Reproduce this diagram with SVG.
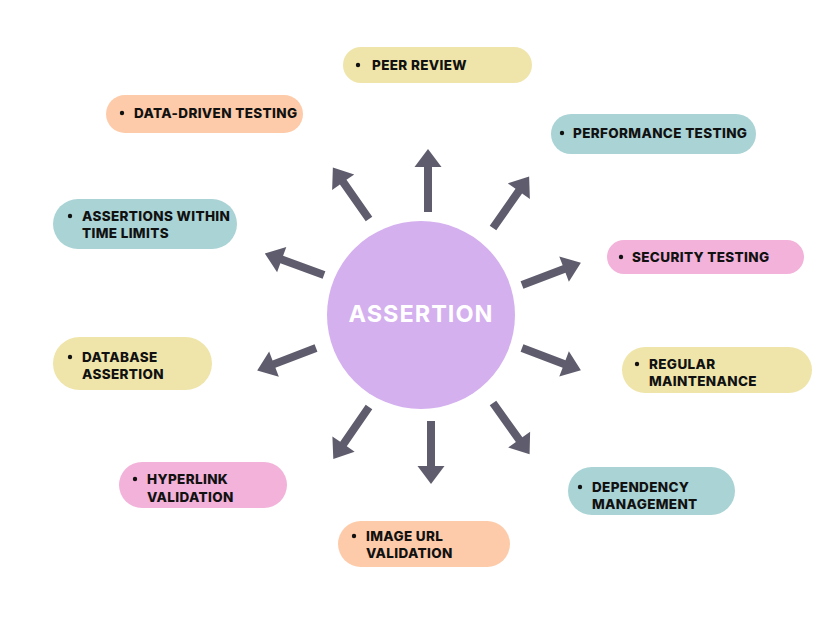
<svg xmlns="http://www.w3.org/2000/svg" width="840" height="630" viewBox="0 0 840 630">
<style>
.t{font-family:Inter,"Liberation Sans",sans-serif;font-weight:800;font-size:13.5px;fill:#111111;letter-spacing:0.35px}
.b{fill:#111111}
.y{fill:#EFE5AA}
.p{fill:#FDCBA9}
.g{fill:#A9D3D5}
.k{fill:#F2B2DA}
.arrow{fill:#5F5D6D}
.c{font-family:Inter,"Liberation Sans",sans-serif;font-weight:700;font-size:23.5px;fill:#FFFFFF;letter-spacing:1px}
</style>
<defs>
<polygon id="arr" points="0,-4 45,-4 45,-13.5 63,0 45,13.5 45,4 0,4"/>
</defs>
<rect width="840" height="630" fill="#FFFFFF"/>
<g id="connectors" class="arrow">
<use href="#arr" transform="translate(428,212) rotate(-90)"/>
<use href="#arr" transform="translate(369,219) rotate(-125)"/>
<use href="#arr" transform="translate(493,228) rotate(-55)"/>
<use href="#arr" transform="translate(324,275) rotate(-160)"/>
<use href="#arr" transform="translate(522,285) rotate(-20.8)"/>
<use href="#arr" transform="translate(316,348) rotate(159)"/>
<use href="#arr" transform="translate(522,348) rotate(20.8)"/>
<use href="#arr" transform="translate(369,407) rotate(124.5)"/>
<use href="#arr" transform="translate(431,421) rotate(90)"/>
<use href="#arr" transform="translate(493,403) rotate(54.5)"/>
</g>
<g id="center">
<circle cx="421" cy="315" r="94" fill="#D4B0EE"/>
<text class="c" x="421" y="321.5" text-anchor="middle">ASSERTION</text>
</g>
<g id="peer-review">
<rect class="y" x="343" y="47" width="189" height="36" rx="18"/>
<circle class="b" cx="358" cy="65" r="2.2"/>
<text class="t" x="372" y="70">PEER REVIEW</text>
</g>
<g id="data-driven-testing">
<rect class="p" x="106" y="95" width="197" height="38" rx="19"/>
<circle class="b" cx="122" cy="113" r="2.2"/>
<text class="t" x="134" y="118">DATA-DRIVEN TESTING</text>
</g>
<g id="performance-testing">
<rect class="g" x="551" y="114" width="205" height="40" rx="20"/>
<circle class="b" cx="562" cy="133" r="2.2"/>
<text class="t" x="573" y="138">PERFORMANCE TESTING</text>
</g>
<g id="assertions-within-time-limits">
<rect class="g" x="53" y="199" width="184" height="50" rx="25"/>
<circle class="b" cx="70" cy="216" r="2.2"/>
<text class="t" x="82" y="221">ASSERTIONS WITHIN</text>
<text class="t" x="82" y="237.5">TIME LIMITS</text>
</g>
<g id="security-testing">
<rect class="k" x="607" y="240" width="197" height="34" rx="17"/>
<circle class="b" cx="621" cy="257" r="2.2"/>
<text class="t" x="632" y="262">SECURITY TESTING</text>
</g>
<g id="regular-maintenance">
<rect class="y" x="622" y="347" width="190" height="46" rx="23"/>
<circle class="b" cx="637" cy="364" r="2.2"/>
<text class="t" x="649" y="369">REGULAR</text>
<text class="t" x="649" y="386">MAINTENANCE</text>
</g>
<g id="database-assertion">
<rect class="y" x="53" y="337" width="159" height="53" rx="26.5"/>
<circle class="b" cx="70" cy="357" r="2.2"/>
<text class="t" x="82" y="362">DATABASE</text>
<text class="t" x="82" y="378.5">ASSERTION</text>
</g>
<g id="hyperlink-validation">
<rect class="k" x="119" y="462" width="168" height="46" rx="23"/>
<circle class="b" cx="135" cy="479" r="2.2"/>
<text class="t" x="147" y="484">HYPERLINK</text>
<text class="t" x="147" y="501.5">VALIDATION</text>
</g>
<g id="dependency-management">
<rect class="g" x="568" y="467" width="167" height="48" rx="24"/>
<circle class="b" cx="580" cy="487" r="2.2"/>
<text class="t" x="592" y="492">DEPENDENCY</text>
<text class="t" x="592" y="509">MANAGEMENT</text>
</g>
<g id="image-url-validation">
<rect class="p" x="338" y="521" width="172" height="46" rx="23"/>
<circle class="b" cx="354" cy="536" r="2.2"/>
<text class="t" x="366" y="541">IMAGE URL</text>
<text class="t" x="366" y="558">VALIDATION</text>
</g>
</svg>
